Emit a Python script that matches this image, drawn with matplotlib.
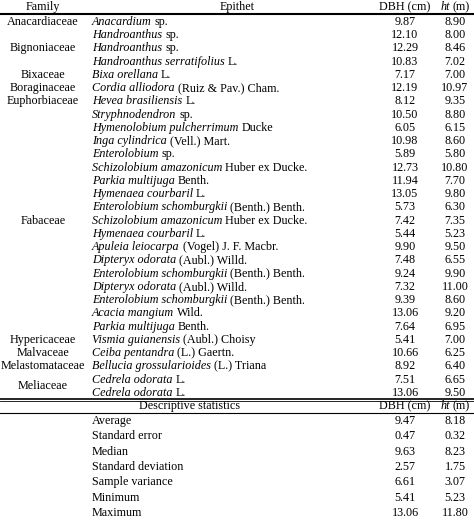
import matplotlib
matplotlib.use("Agg")
import matplotlib.pyplot as plt

families = [("Anacardiaceae", 0, 0), ("Bignoniaceae", 1, 3), ("Bixaceae", 4, 4),
            ("Boraginaceae", 5, 5), ("Euphorbiaceae", 6, 6), ("Fabaceae", 7, 23),
            ("Hypericaceae", 24, 24), ("Malvaceae", 25, 25),
            ("Melastomataceae", 26, 26), ("Meliaceae", 27, 28)]
epithet_italic = ["Anacardium", "Handroanthus", "Handroanthus", "Handroanthus serratifolius",
    "Bixa orellana", "Cordia alliodora", "Hevea brasiliensis", "Stryphnodendron",
    "Hymenolobium pulcherrimum", "Inga cylindrica", "Enterolobium", "Schizolobium amazonicum",
    "Parkia multijuga", "Hymenaea courbaril", "Enterolobium schomburgkii", "Schizolobium amazonicum",
    "Hymenaea courbaril", "Apuleia leiocarpa", "Dipteryx odorata", "Enterolobium schomburgkii",
    "Dipteryx odorata", "Enterolobium schomburgkii", "Acacia mangium", "Parkia multijuga",
    "Vismia guianensis", "Ceiba pentandra", "Bellucia grossularioides", "Cedrela odorata",
    "Cedrela odorata"]
epithet_author = ["sp.", "sp.", "sp.", "L.", "L.", "(Ruiz & Pav.) Cham.", "L.", "sp.", "Ducke",
    "(Vell.) Mart.", "sp.", "Huber ex Ducke.", "Benth.", "L.", "(Benth.) Benth.", "Huber ex Ducke.",
    "L.", "(Vogel) J. F. Macbr.", "(Aubl.) Willd.", "(Benth.) Benth.", "(Aubl.) Willd.",
    "(Benth.) Benth.", "Wild.", "Benth.", "(Aubl.) Choisy", "(L.) Gaertn.", "(L.) Triana", "L.", "L."]
dbh = ["9.87", "12.10", "12.29", "10.83", "7.17", "12.19", "8.12", "10.50", "6.05", "10.98",
       "5.89", "12.73", "11.94", "13.05", "5.73", "7.42", "5.44", "9.90", "7.48", "9.24", "7.32",
       "9.39", "13.06", "7.64", "5.41", "10.66", "8.92", "7.51", "13.06"]
ht = ["8.90", "8.00", "8.46", "7.02", "7.00", "10.97", "9.35", "8.80", "6.15", "8.60", "5.80",
      "10.80", "7.70", "9.80", "6.30", "7.35", "5.23", "9.50", "6.55", "9.90", "11.00", "8.60",
      "9.20", "6.95", "7.00", "6.25", "6.40", "6.65", "9.50"]
stat_names = ["Average", "Standard error", "Median", "Standard deviation", "Sample variance",
              "Minimum", "Maximum"]
stat_dbh = ["9.47", "0.47", "9.63", "2.57", "6.61", "5.41", "13.06"]
stat_ht = ["8.18", "0.32", "8.23", "1.75", "3.07", "5.23", "11.80"]

plt.rcParams['font.family'] = ['Liberation Serif', 'DejaVu Serif']
FS = 8.7
BL = 3.8  # baseline offset from row centre
fig = plt.figure(figsize=(4.74, 5.2), dpi=100)
ax = fig.add_axes([0, 0, 1, 1])
ax.set_xlim(0, 474); ax.set_ylim(520, 0); ax.axis('off')
r = fig.canvas.get_renderer()

def txt(x, y, s, ha='left', **kw):
    return ax.text(x, y + BL, s, ha=ha, va='baseline', fontsize=FS, **kw)

def mixed(x, y, ital, norm, gap=3):
    t = txt(x, y, ital, style='italic')
    w = t.get_window_extent(r).width
    txt(x + w + gap, y, norm)

xf, xe, xd, xh = 43, 92, 405, 455
def row_y(i): return 21 + i * 13.25

txt(xf, 6, "Family", ha='center')
txt(237, 6, "Epithet", ha='center')
txt(xd, 6, "DBH (cm)", ha='center')
mixed(441, 6, "ht", "(m)", gap=2.5)
ax.axhline(13.5, color='black', lw=1.5)

for name, a, b in families:
    txt(xf, (row_y(a) + row_y(b)) / 2, name, ha='center')
for i in range(len(dbh)):
    y = row_y(i)
    mixed(xe, y, epithet_italic[i], epithet_author[i])
    txt(xd, y, dbh[i], ha='center')
    txt(xh, y, ht[i], ha='center')

ax.axhline(399, color='black', lw=1.2)
ax.axhline(400.8, color='black', lw=0.6)
txt(190, 405, "Descriptive statistics", ha='center')
txt(xd, 405, "DBH (cm)", ha='center')
mixed(441, 405, "ht", "(m)", gap=2.5)
ax.axhline(412.5, color='black', lw=0.8)
for i in range(len(stat_names)):
    y = 420 + i * 15.4
    txt(xe, y, stat_names[i])
    txt(xd, y, stat_dbh[i], ha='center')
    txt(xh, y, stat_ht[i], ha='center')

fig.savefig("out.png", dpi=100)
